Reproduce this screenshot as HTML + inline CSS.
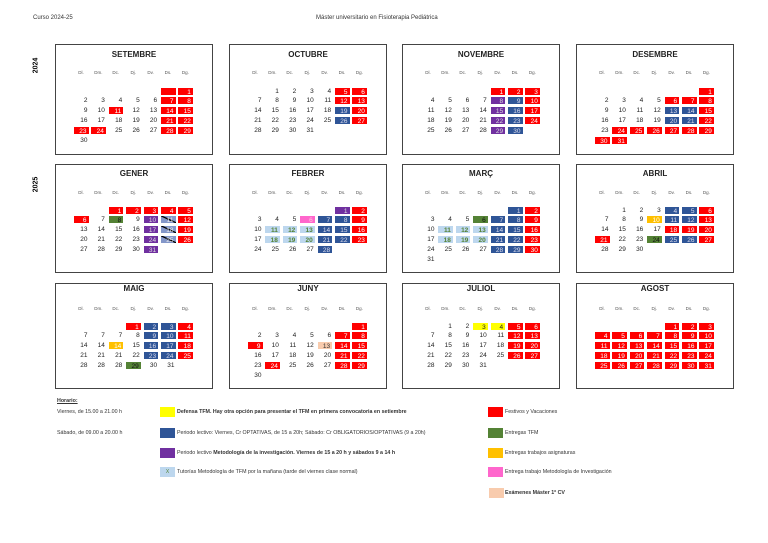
<!DOCTYPE html>
<html><head><meta charset="utf-8"><style>
body{margin:0;width:768px;height:543px;background:#fff;font-family:"Liberation Sans",sans-serif;position:relative;overflow:hidden}
.a{position:absolute}
.box{position:absolute;border:1.5px solid #444;box-sizing:border-box;width:158px}
.tt{position:absolute;left:0;width:100%;text-align:center;font-weight:bold;font-size:8px;color:#222}
.hd{position:absolute;font-size:4.5px;color:#555;width:16px;text-align:center}
.c{position:absolute;width:16.5px;height:9px;font-size:6.5px;line-height:9px;text-align:right;box-sizing:border-box;padding-right:2px;color:#222}
.lg{position:absolute;font-size:5.3px;color:#333;white-space:nowrap}
.sw{position:absolute;width:15px;height:10px}
</style></head><body>
<div class="a" style="left:33px;top:15px;font-size:6px;color:#333">Curso 2024-25</div>
<div class="a" style="left:316px;top:15px;font-size:6px;color:#333">Máster universitario en Fisioterapia Pediátrica</div>
<div class="a" style="left:28px;top:62px;font-size:7px;font-weight:bold;transform:rotate(-90deg)">2024</div>
<div class="a" style="left:28px;top:181px;font-size:7px;font-weight:bold;transform:rotate(-90deg)">2025</div>
<div id="cal"></div>
<div id="legend">
<div class="lg" style="left:57px;top:398px;font-weight:bold;text-decoration:underline">Horario:</div>
<div class="lg" style="left:57px;top:409px">Viernes, de 15.00 a 21.00 h</div>
<div class="lg" style="left:57px;top:430px">Sábado, de 09.00 a 20.00 h</div>
<div class="sw" style="left:160px;top:407px;background:#ffff00"></div>
<div class="lg" style="left:177px;top:409px;font-weight:bold">Defensa TFM. Hay otra opción para presentar el TFM en primera convocatoria en setiembre</div>
<div class="sw" style="left:160px;top:428px;background:#2f5597"></div>
<div class="lg" style="left:177px;top:430px">Periodo lectivo: Viernes, Cr OPTATIVAS, de 15 a 20h; Sábado: Cr OBLIGATORIOS/OPTATIVAS (9 a 20h)</div>
<div class="sw" style="left:160px;top:448px;background:#7030a0"></div>
<div class="lg" style="left:177px;top:450px">Periodo lectivo <b>Metodología de la investigación. Viernes de 15 a 20 h y sábados 9 a 14 h</b></div>
<div class="sw" style="left:160px;top:467px;background:#bdd7ee;font-size:5px;color:#548235;text-align:center;line-height:10px">X</div>
<div class="lg" style="left:177px;top:469px">Tutorías Metodología de TFM por la mañana (tarde del viernes clase normal)</div>
<div class="sw" style="left:488px;top:407px;background:#ff0000"></div>
<div class="lg" style="left:505px;top:409px">Festivos y Vacaciones</div>
<div class="sw" style="left:488px;top:428px;background:#548235"></div>
<div class="lg" style="left:505px;top:430px">Entregas TFM</div>
<div class="sw" style="left:488px;top:448px;background:#ffc000"></div>
<div class="lg" style="left:505px;top:450px">Entregas trabajos asignaturas</div>
<div class="sw" style="left:488px;top:467px;background:#ff66cc"></div>
<div class="lg" style="left:505px;top:469px">Entrega trabajo Metodología de Investigación</div>
<div class="sw" style="left:489px;top:488px;background:#f8cbad"></div>
<div class="lg" style="left:505px;top:490px;font-weight:bold">Exámenes Máster 1ª CV</div>
</div>
<script>
const monthNames=["SETEMBRE","OCTUBRE","NOVEMBRE","DESEMBRE","GENER","FEBRER","MARÇ","ABRIL","MAIG","JUNY","JULIOL","AGOST"];
const monthOffsets=[6,1,4,6,2,5,5,1,3,6,1,4];
const monthDays=[30,31,30,31,31,28,31,30,31,30,31,31];
const red={0:[1,7,8,11,14,15,21,22,23,24,28,29],1:[5,6,12,13,20,27],2:[1,2,3,10,17,24],3:[1,6,7,8,15,22,24,25,26,27,28,29,30,31],4:[1,2,3,4,5,6,12,19,26],5:[2,9,16,23],6:[2,9,16,23,30],7:[6,13,18,19,20,21,27],8:[1,4,11,18,25],9:[1,7,8,9,14,15,21,22,24,28,29],10:[5,6,12,13,19,20,26,27],11:[1,2,3,4,5,6,7,8,9,10,11,12,13,14,15,16,17,18,19,20,21,22,23,24,25,26,27,28,29,30,31]};
const blue={1:[19,26],2:[9,16,23,30],3:[13,14,20,21],5:[7,8,14,15,21,22,28],6:[1,7,8,14,15,21,22,28,29],7:[4,5,11,12,25,26],8:[2,3,9,10,16,17,23,24]};
const purple={2:[8,15,22,29],4:[10,17,24,31],5:[1]};
const striked={4:[11,18,25]};
const green={4:[8],6:[6],7:[24],8:[29]};
const light={5:[11,12,13,18,19,20],6:[11,12,13,18,19,20]};
const yellow={10:[3,4]};
const orange={7:[10],8:[14]};
const pink={5:[6]};
const salmon={9:[13]};
const maigLabels=["1","2","3","4","7","7","7","8","9","10","11","14","14","14","15","16","17","18","21","21","21","22","23","24","25","28","28","28","29","30","31"];
const dayHeaders=["Dl.","Dm.","Dc.","Dj.","Dv.","Ds.","Dg."];
const boxX=[55,229,402,576],rowY=[44,164,283],boxH=[111,109,106];
const titleOff=[5,4,0],hdrOff=[25,25,22],cellOff=[43,42,39];
const cal=document.getElementById('cal');
function has(o,m,d){return o[m]&&o[m].indexOf(d)>=0}
for(let m=0;m<12;m++){
 const r=Math.floor(m/4),bx=boxX[m%4],by=rowY[r];
 const box=document.createElement('div');box.className='box';
 
 
 box.style.left=bx+'px';box.style.top=by+'px';box.style.height=boxH[r]+'px';
 cal.appendChild(box);
 const t=document.createElement('div');t.className='tt';t.textContent=monthNames[m];
 
 
 t.style.top=titleOff[r]+'px';box.appendChild(t);
 for(let i=0;i<7;i++){const h=document.createElement('div');h.className='hd';h.textContent=dayHeaders[i];
  
  
  h.style.left=(17+i*17.4)+'px';h.style.top=hdrOff[r]+'px';box.appendChild(h);}
 const cells=[];
 if(m===0)cells.push({pos:5,label:'',bg:'#ff0000',col:'#fff'});
 for(let d=1;d<=monthDays[m];d++){
  const pos=monthOffsets[m]+d-1;
  let bg='',col='#222',bold=false,stk=false;
  if(has(red,m,d)){bg='#ff0000';col='#fff'}
  if(has(blue,m,d)){bg='#2f5597';col='#dde'}
  if(has(purple,m,d)){bg='#7030a0';col='#ddd'}
  if(has(striked,m,d)){bg='#8497c9';col='#eee';stk=true}
  if(has(green,m,d)){bg='#548235';col='#111'}
  if(has(light,m,d)){bg='#bdd7ee';col='#548235';bold=true}
  if(has(yellow,m,d)){bg='#ffff00';col='#222'}
  if(has(orange,m,d)){bg='#ffc000';col='#fff'}
  if(has(pink,m,d)){bg='#ff66cc';col='#fcd'}
  if(has(salmon,m,d)){bg='#f8cbad';col='#333'}
  cells.push({pos:pos,label:m===8?maigLabels[d-1]:String(d),bg:bg,col:col,bold:bold,stk:stk});
 }
 cells.forEach(c=>{
  const e=document.createElement('div');e.className='c';e.textContent=c.label;
  
  
  e.style.left=(18.5+(c.pos%7)*17.4-1.5)+'px';
  e.style.top=(cellOff[r]+Math.floor(c.pos/7)*9.9-1.5)+'px';
  if(c.bg){e.style.background=c.bg;e.style.border='0.5px solid #fff'}
  e.style.color=c.col;if(c.bold)e.style.fontWeight='bold';
  if(c.stk)e.style.backgroundImage='linear-gradient(to top right,transparent 45%,#000 48%,#000 55%,transparent 58%)';
  box.appendChild(e);
 });
}
</script>
</body></html>
